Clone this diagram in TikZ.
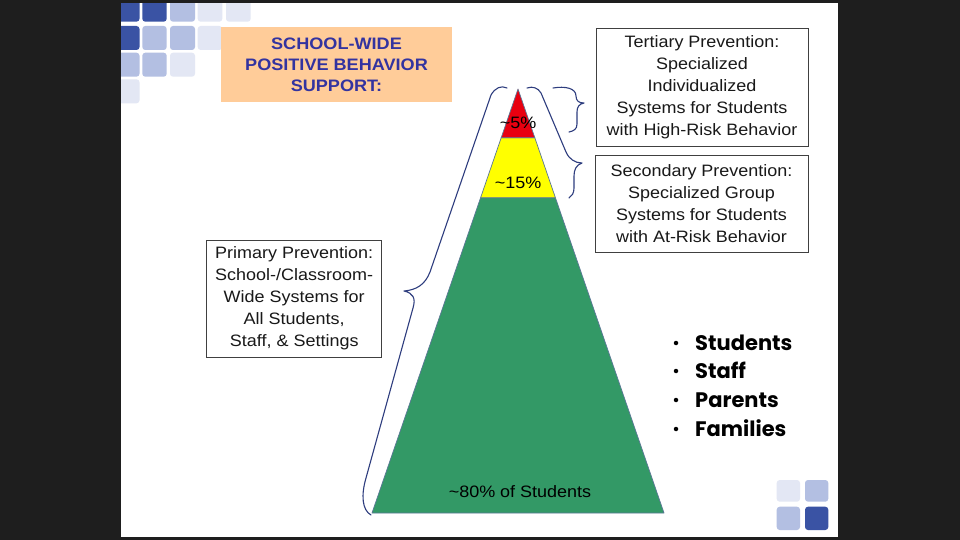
\documentclass[tikz,border=0pt]{standalone}
\usepackage{fontspec}
\setmainfont{Liberation Sans}[FakeStretch=1.09]
\newfontfamily\gothic{Poppins}
\definecolor{bgdark}{HTML}{1E1E1E}
\definecolor{dkblue}{HTML}{3A53A4}
\definecolor{ltblue}{HTML}{B3BFE2}
\definecolor{vlblue}{HTML}{E3E7F4}
\definecolor{peach}{HTML}{FFCC99}
\definecolor{titleblue}{HTML}{3333A0}
\definecolor{pgreen}{HTML}{339966}
\definecolor{pred}{HTML}{E80010}
\definecolor{pyellow}{HTML}{FFFF00}
\definecolor{pedge}{HTML}{5B7796}
\definecolor{bracecol}{HTML}{2E3D7E}
\definecolor{boxedge}{HTML}{404040}
\tikzset{
  sq/.style={rounded corners=3pt},
  infobox/.style={draw=boxedge, line width=0.9pt, fill=white, inner sep=0pt, align=center,
    font=\fontsize{16.5}{22}\selectfont, text=black!90},
  pct/.style={inner sep=0pt, font=\fontsize{16.5}{20}\selectfont, text=black},
  bracestyle/.style={draw=bracecol, line width=1.1pt, line cap=round, line join=round},
  band/.style={draw=pedge, line width=0.7pt, line join=round},
  bul/.style={inner sep=0pt, anchor=base west, font=\gothic\bfseries\fontsize{21}{26}\selectfont, text=black},
  dot/.style={circle, fill=black, inner sep=0pt, minimum size=4.5pt}
}
\begin{document}
\begin{tikzpicture}[x=1pt,y=-1pt]
\useasboundingbox (0,0) rectangle (960,540);
\fill[bgdark] (0,0) rectangle (960,540);
\fill[white] (121,3.5) rectangle (837.5,536.5);
% decorative squares, top left
\begin{scope}
\clip (121,3.5) rectangle (837.5,536.5);
\fill[dkblue,sq] (114,-3) rectangle (139.5,21.7);
\fill[dkblue,sq] (142.3,-3) rectangle (166.7,21.7);
\fill[ltblue,sq] (170,-3) rectangle (195,21.7);
\fill[vlblue,sq] (197.7,-3) rectangle (222.3,21.7);
\fill[vlblue,sq] (226,-3) rectangle (250.7,21.7);
\fill[dkblue,sq] (114,26) rectangle (139.5,50);
\fill[ltblue,sq] (142.3,26) rectangle (166.7,50);
\fill[ltblue,sq] (170,26) rectangle (195,50);
\fill[vlblue,sq] (197.7,26) rectangle (222.3,50);
\fill[ltblue,sq] (114,52.7) rectangle (139.5,76.7);
\fill[ltblue,sq] (142.3,52.7) rectangle (166.7,76.7);
\fill[vlblue,sq] (170,52.7) rectangle (195,76.7);
\fill[vlblue,sq] (114,79.3) rectangle (139.5,103.3);
\end{scope}
% decorative squares, bottom right
\fill[vlblue,sq] (776.7,480) rectangle (800,501.7);
\fill[ltblue,sq] (805,480) rectangle (828.3,501.7);
\fill[ltblue,sq] (776.7,506.7) rectangle (800,530);
\fill[dkblue,sq] (805,506.7) rectangle (828.3,530);
% title
\node[fill=peach, minimum width=231pt, minimum height=75pt, inner sep=0pt, align=center,
  font=\bfseries\fontsize{16.6}{21}\selectfont, text=titleblue] (title) at (336.5,64.5)
  {SCHOOL-WIDE\\POSITIVE BEHAVIOR\\SUPPORT:};
% pyramid
\coordinate (apex) at (518,89);
\coordinate (rl) at (501.2,137.7);
\coordinate (rr) at (534.8,137.7);
\coordinate (yl) at (480.6,197.7);
\coordinate (yr) at (555.4,197.7);
\coordinate (gl) at (372,513);
\coordinate (gr) at (664,513);
\filldraw[band, fill=pgreen] (yl) -- (yr) -- (gr) -- (gl) -- cycle;
\filldraw[band, fill=pyellow] (rl) -- (rr) -- (yr) -- (yl) -- cycle;
\filldraw[band, fill=pred] (apex) -- (rr) -- (rl) -- cycle;
\node[pct] (p5) at (518,123) {\textasciitilde5\%};
\node[pct] (p15) at (518,183) {\textasciitilde15\%};
\node[pct] (p80) at (520,492) {\textasciitilde80\% of Students};
% braces
\draw[bracestyle] (507,88) .. controls (501,85) and (495,88) .. (491,95)
  -- (430,272) .. controls (425,285) and (416,290) .. (404,291)
  .. controls (413,293) and (416,298) .. (413,308)
  -- (366,478) .. controls (361,495) and (362,510) .. (371,515);
\draw[bracestyle] (527,88) .. controls (533,86) and (538,88) .. (541,93)
  -- (566,152) .. controls (569,159) and (575,163) .. (582,163)
  .. controls (576,165) and (574,170) .. (574,176)
  -- (574,188) .. controls (574,193) and (572,196) .. (569,198);
\draw[bracestyle] (553,88) .. controls (565,86) and (576,88) .. (576,96)
  .. controls (576,101) and (579,103) .. (584,103)
  .. controls (579,104) and (577,107) .. (577,112)
  -- (577,124) .. controls (577,129) and (574,131) .. (569,132);
% text boxes
\node[infobox, minimum width=212pt, minimum height=118pt] (tert) at (702,87)
  {Tertiary Prevention:\\Specialized\\Individualized\\Systems for Students\\with High-Risk Behavior};
\node[infobox, minimum width=213pt, minimum height=97pt] (sec) at (701.5,203.5)
  {Secondary Prevention:\\Specialized Group\\Systems for Students\\with At-Risk Behavior};
\node[infobox, minimum width=175pt, minimum height=117pt] (prim) at (294.2,298.7)
  {Primary Prevention:\\School-/Classroom-\\Wide Systems for\\All Students,\\Staff, \& Settings};
% bullet list
\node[dot] (d1) at (676,343) {};
\node[dot] (d2) at (676,371) {};
\node[dot] (d3) at (676,400) {};
\node[dot] (d4) at (676,429) {};
\node[bul] (b1) at (695,350) {Students};
\node[bul] (b2) at (695,378) {Staff};
\node[bul] (b3) at (695,407) {Parents};
\node[bul] (b4) at (695,436) {Families};
\end{tikzpicture}
\end{document}
